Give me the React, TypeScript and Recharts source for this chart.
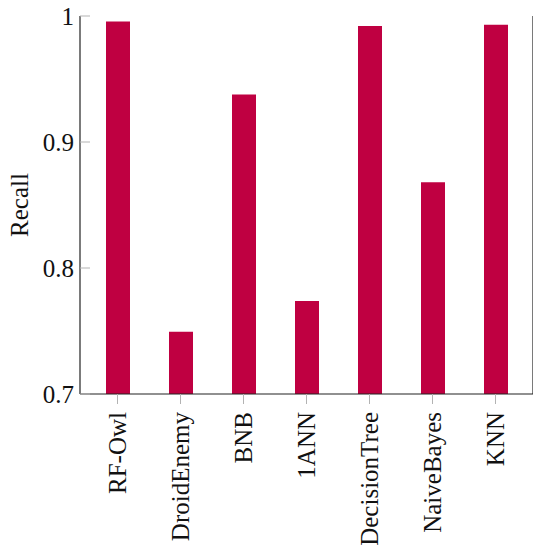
import { BarChart, Bar, XAxis, YAxis, Label } from "recharts";

const models = ["RF-Owl", "DroidEnemy", "BNB", "1ANN", "DecisionTree", "NaiveBayes", "KNN"];
const recall = [0.9956, 0.7495, 0.9377, 0.7738, 0.992, 0.868, 0.993];
const yTicks = [0.7, 0.8, 0.9, 1];

const data = models.map((name, i) => ({ name, recall: recall[i] }));

const FONT = "'Liberation Serif', serif";
const SIZE = 25;
const BAR = "#BF0041";
const TICK = "#b3b3b3";

const YTick = (props: any) => {
  const { x, y, payload } = props;
  return (
    <g>
      <line x1={x + 6} x2={x + 16} y1={y} y2={y} stroke={TICK} strokeWidth={1} />
      <text x={x} y={y} dy="0.35em" textAnchor="end" fontFamily={FONT} fontSize={SIZE} fill="#111">
        {payload.value === 1 ? "1" : payload.value.toFixed(1)}
      </text>
    </g>
  );
};

const XTick = (props: any) => {
  const { x, y, payload } = props;
  return (
    <text
      x={x}
      y={y}
      dy="0.35em"
      textAnchor="end"
      transform={`rotate(-90, ${x}, ${y})`}
      fontFamily={FONT}
      fontSize={SIZE}
      fill="#111"
    >
      {payload.value}
    </text>
  );
};

export default function App() {
  return (
    <div style={{ margin: "-8px 0 0 -8px" }}>
      <BarChart
        width={541}
        height={550}
        data={data}
        margin={{ top: 16, right: 8, bottom: 0, left: 8 }}
        barSize={24}
      >
        <XAxis
          dataKey="name"
          xAxisId="bottom"
          height={156}
          padding={{ left: 6, right: 6 }}
          tickSize={10}
          tickMargin={8}
          tickLine={{ stroke: TICK }}
          axisLine={{ stroke: "#222", strokeWidth: 1.2 }}
          tick={<XTick />}
          interval={0}
        />
        <XAxis
          dataKey="name"
          xAxisId="top"
          orientation="top"
          height={0}
          padding={{ left: 6, right: 6 }}
          tickSize={10}
          tick={false}
          tickLine={{ stroke: TICK }}
          axisLine={{ stroke: "#222", strokeWidth: 1.2 }}
          interval={0}
        />
        <YAxis
          yAxisId="left"
          width={72}
          domain={[0.7, 1]}
          ticks={yTicks}
          tickSize={0}
          tickMargin={6}
          tickLine={false}
          axisLine={{ stroke: "#222", strokeWidth: 1.2 }}
          tick={<YTick />}
        >
          <Label
            content={({ viewBox }: any) => {
              const cx = viewBox.x + 11;
              const cy = viewBox.y + viewBox.height / 2;
              return (
                <text
                  x={cx}
                  y={cy}
                  dy="0.35em"
                  textAnchor="middle"
                  transform={`rotate(-90, ${cx}, ${cy})`}
                  fontFamily={FONT}
                  fontSize={SIZE}
                  fill="#111"
                >
                  Recall
                </text>
              );
            }}
          />
        </YAxis>
        <YAxis
          yAxisId="right"
          orientation="right"
          mirror
          domain={[0.7, 1]}
          ticks={yTicks}
          tickSize={10}
          tick={false}
          tickLine={{ stroke: TICK }}
          axisLine={{ stroke: "#222", strokeWidth: 1.2 }}
        />
        <Bar
          dataKey="recall"
          xAxisId="bottom"
          yAxisId="left"
          fill={BAR}
          isAnimationActive={false}
        />
      </BarChart>
    </div>
  );
}
